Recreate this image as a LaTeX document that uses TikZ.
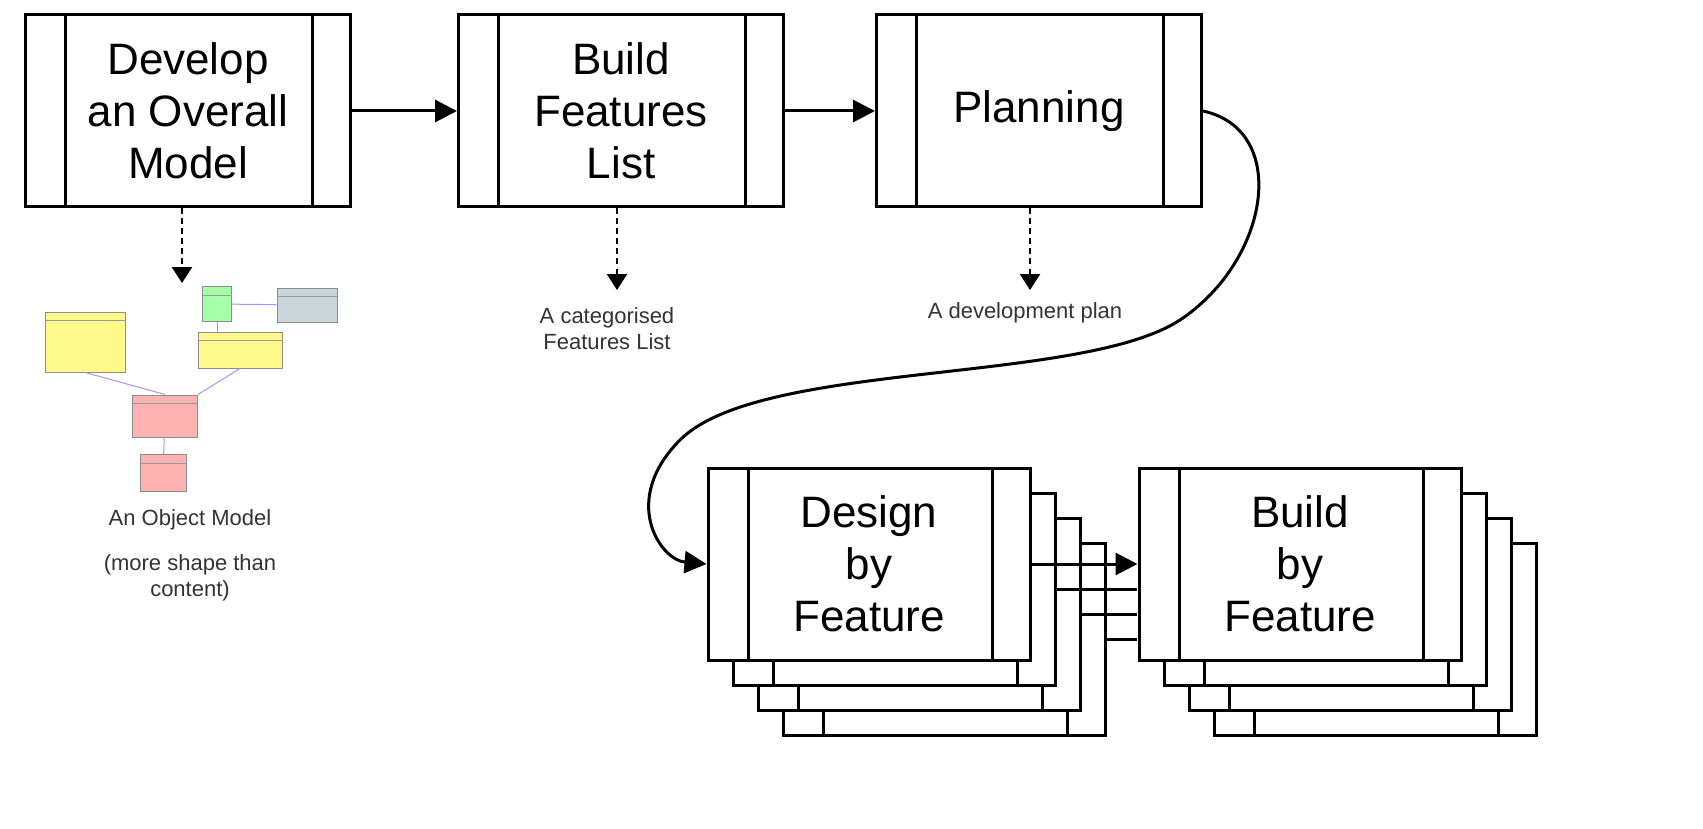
\documentclass[tikz,border=0pt]{standalone}
\usepackage{fontspec}
\setmainfont{Liberation Sans}
\usetikzlibrary{arrows.meta}
\begin{document}
\begin{tikzpicture}[x=1pt,y=-1pt,
  pbox/.style={draw,fill=white,line width=3pt,minimum width=325pt,minimum height=192pt,inner sep=0pt,
    align=center,font=\fontsize{44}{52}\selectfont,
    path picture={\draw[line width=3pt]
      ([xshift=40pt]path picture bounding box.north west) -- ([xshift=40pt]path picture bounding box.south west)
      ([xshift=-38pt]path picture bounding box.north east) -- ([xshift=-38pt]path picture bounding box.south east);}},
  sbox/.style={pbox,minimum width=322pt},
  arr/.style={line width=3pt,-{Triangle[length=22pt,width=22pt]}},
  darr/.style={line width=2.5pt,dash pattern=on 6pt off 4pt,-{Triangle[length=16pt,width=20pt]}},
  lbl/.style={font=\fontsize{22}{26}\selectfont,align=center,text=black!80},
  uml/.style={draw=black!45,line width=1pt,inner sep=0pt},
  ul/.style={draw=blue!40,line width=1pt}]
\useasboundingbox (0,0) rectangle (1703,829);
\fill[white] (0,0) rectangle (1703,829);
% top row
\node[pbox] (dev) at (188,111) {Develop\\an Overall\\Model};
\node[pbox] (bfl) at (621,111) {Build\\Features\\List};
\node[pbox] (plan) at (1039,111) {Planning};
\draw[arr] (dev.east) -- (bfl.west);
\draw[arr] (bfl.east) -- (plan.west);
% outputs
\coordinate (o1) at (182,283);
\coordinate (o2) at (617,290);
\coordinate (o3) at (1030,290);
\draw[darr] (dev.south -| o1) -- (o1);
\draw[darr] (bfl.south -| o2) -- (o2);
\draw[darr] (plan.south -| o3) -- (o3);
\node[lbl] (t2) at (607,329) {A categorised\\Features List};
\node[lbl] (t3) at (1025,313) {A development plan};
% object model sketch
\node[uml,fill=yellow!45,minimum width=80pt,minimum height=60pt] (u1) at (85,342) {};
\node[uml,fill=green!35,minimum width=29pt,minimum height=35pt] (u2) at (217,304) {};
\node[uml,fill=cyan!20!gray!40,minimum width=60pt,minimum height=34pt] (u3) at (307,305) {};
\node[uml,fill=yellow!45,minimum width=84pt,minimum height=36pt] (u4) at (240,350) {};
\node[uml,fill=red!30,minimum width=65pt,minimum height=42pt] (u5) at (165,416) {};
\node[uml,fill=red!30,minimum width=46pt,minimum height=37pt] (u6) at (163,473) {};
\draw[ul] (u2) -- (u3);
\draw[ul] (u2) -- (u4.north -| u2);
\draw[ul] (u1.south) -- (u5.north);
\draw[ul] (u4.south) -- (u5.north east);
\draw[ul] (u5) -- (u6);
\foreach \n in {u1,u2,u3,u4,u5,u6}{\draw[black!40,line width=0.8pt] ([yshift=-9pt]\n.north west) -- ([yshift=-9pt]\n.north east);}
\node[lbl] (t1) at (190,520) {An Object Model};
\node[lbl] (t1b) at (190,578) {(more shape than\\content)};
% design stack
\node[sbox] (d3) at (944,639) {};
\node[sbox] (d2) at (919,614) {};
\node[sbox] (d1) at (894,589) {};
% build stack
\node[sbox] (b3) at (1375,639) {};
\node[sbox] (b2) at (1350,614) {};
\node[sbox] (b1) at (1325,589) {};
\draw[line width=3pt] (d1.east) -- (1137,589);
\draw[line width=3pt] (d2.east) -- (1137,614);
\draw[line width=3pt] (d3.east) -- (1137,639);
\node[sbox] (dbf) at (869,564) {Design\\by\\Feature};
\node[sbox] (bbf) at (1300,564) {Build\\by\\Feature};
\draw[arr] (dbf.east) -- (bbf.west);
% curve
\draw[arr] (plan.east) .. controls (1290,130) and (1270,260) .. (1180,320)
  .. controls (1080,385) and (760,360) .. (680,440)
  .. controls (620,500) and (660,560) .. (dbf.west);
\end{tikzpicture}
\end{document}
